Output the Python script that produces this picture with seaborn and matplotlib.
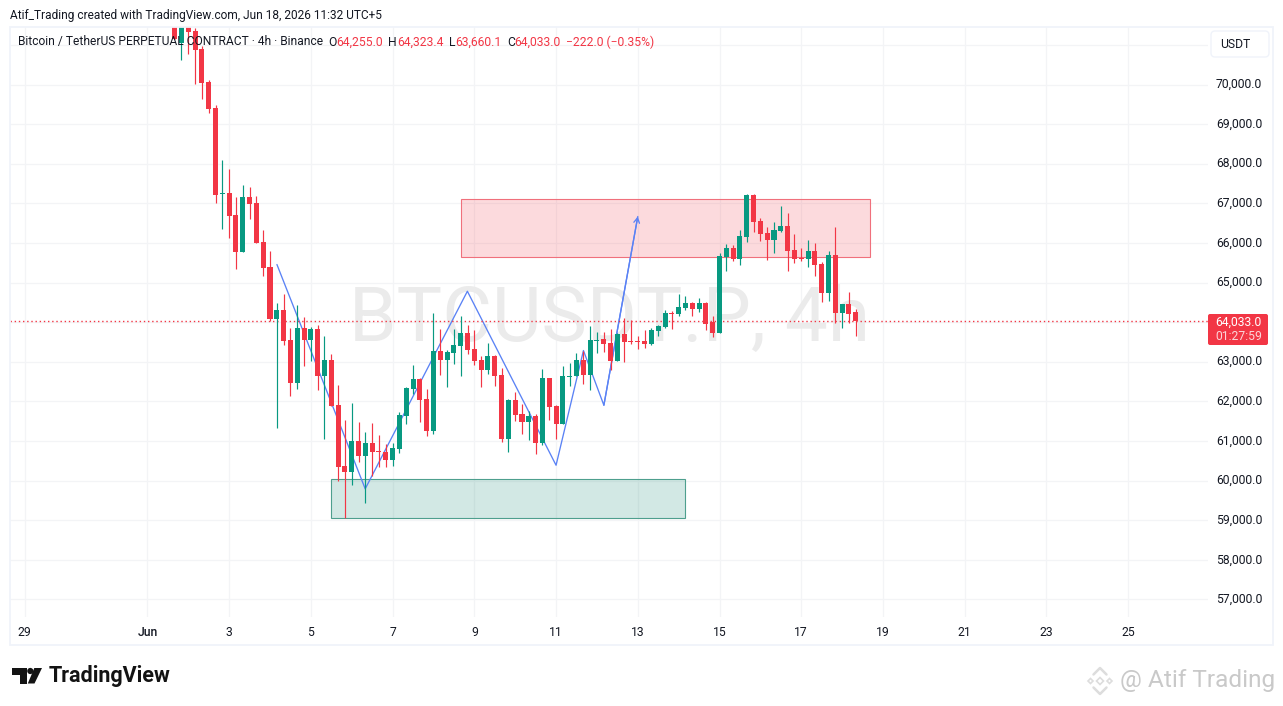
import numpy as np
import pandas as pd
import matplotlib
matplotlib.use("Agg")
import matplotlib.pyplot as plt
from matplotlib.patches import FancyBboxPatch, Polygon, Circle, Rectangle
from matplotlib.transforms import ScaledTranslation
import seaborn as sns

# 4h candles, Jun 1 16:00 -> Jun 18 08:00
candle_times = pd.date_range("2026-06-01 16:00", periods=101, freq="4h")
opens = [71700, 71060, 71560, 71363, 70909, 70075, 69419, 67247, 67273, 66717,
         65783, 67172, 67020, 66036, 65404, 64091, 64318, 63561, 62475, 63864,
         63561, 63839, 62652, 63056, 61920, 60379, 60228, 61011, 60632, 60960,
         60758, 60733, 60531, 60809, 61642, 62324, 62576, 62071, 61263, 63283,
         63056, 63233, 63410, 63738, 63334, 63056, 62803, 63157, 62677, 61061,
         62046, 61692, 61491, 61642, 60960, 62601, 61895, 61440, 62627, 62652,
         63056, 62677, 63536, 63586, 63485, 63031, 63712, 63536, 63536, 63536,
         63460, 63788, 63889, 64243, 64217, 64369, 64495, 64344, 64495, 64015,
         63738, 65657, 65884, 65606, 66162, 67222, 66566, 66263, 66086, 66313,
         66439, 65833, 65631, 65606, 65808, 65480, 64748, 65707, 64243, 64470,
         64255]
highs = [71900, 71800, 71700, 71439, 70984, 70126, 69495, 68106, 67879, 67172,
         67475, 67424, 67197, 66338, 65808, 64495, 64722, 63864, 64445, 64142,
         63889, 63940, 63662, 63207, 62425, 61541, 61970, 61491, 61238, 61465,
         61162, 60935, 60960, 61743, 62374, 62930, 62602, 62324, 64243, 63839,
         63308, 63839, 64167, 63916, 63814, 63157, 63485, 63182, 62854, 62071,
         62248, 61945, 61768, 61692, 62829, 62601, 61920, 62904, 62980, 63233,
         63283, 63914, 63763, 63763, 63839, 63738, 64116, 64066, 63662, 63814,
         63864, 63940, 64318, 64293, 64722, 64672, 64520, 64621, 64520, 64167,
         65758, 65985, 65960, 66338, 67248, 67248, 66641, 66414, 66541, 66944,
         66768, 66237, 65884, 66086, 66010, 65530, 65808, 66414, 64470, 64773,
         64323]
lows = [71161, 70631, 70782, 70025, 69646, 69268, 67020, 66364, 66136, 65354,
        65783, 66616, 66010, 65177, 64041, 61339, 63435, 62147, 62324, 62904,
        63031, 62298, 61061, 61895, 60001, 59066, 59900, 60480, 59445, 60127,
        60354, 60354, 60379, 60708, 61440, 62197, 61491, 61137, 61188, 62677,
        62374, 62955, 62652, 63207, 62930, 62374, 62703, 62399, 60985, 60733,
        61515, 61188, 61036, 60683, 60910, 61541, 61061, 61440, 62399, 62652,
        62450, 62298, 63233, 63258, 62803, 63031, 63006, 63460, 63334, 63359,
        63435, 63662, 63864, 63839, 64167, 64318, 64167, 64268, 63814, 63637,
        63738, 65303, 65556, 65455, 66036, 66288, 66061, 65581, 65758, 66288,
        65303, 65505, 65556, 65404, 65177, 64520, 64545, 63990, 63864, 63990,
        63660]
closes = [71161, 71600, 71338, 70883, 70050, 69394, 67222, 67273, 66692, 65783,
          67172, 66995, 66010, 65379, 64091, 64318, 63536, 62475, 63864, 63561,
          63839, 62652, 63056, 61895, 60354, 60228, 61011, 60632, 60960, 60733,
          60733, 60531, 60834, 61667, 62349, 62576, 62046, 61263, 63283, 63056,
          63258, 63435, 63738, 63308, 63031, 62803, 63157, 62652, 61061, 62046,
          61667, 61491, 61642, 60960, 62601, 61869, 61440, 62652, 62652, 63056,
          62677, 63561, 63561, 63460, 63031, 63712, 63510, 63510, 63510, 63460,
          63814, 63914, 64243, 64217, 64394, 64495, 64344, 64495, 63965, 63738,
          65682, 65884, 65606, 66187, 67222, 66541, 66238, 66086, 66338, 66439,
          65808, 65606, 65606, 65808, 65455, 64748, 65707, 64243, 64470, 64217,
          64033]

# blue hand drawn path, days after Jun 1 / price
path_days = [3.17, 5.33, 7.83, 10.0, 10.67, 11.17, 12.0]
path_prices = [65455, 59791, 64780, 60387, 63283, 61902, 66667]

# supply and demand boxes
red_zone_days = [7.67, 17.67]
red_zone_prices = [65657, 67109]
green_zone_days = [4.49, 13.155]
green_zone_prices = [59054, 60051]

last_price = 64033.0
price_ticks = [70000, 69000, 68000, 67000, 66000, 65000, 64000, 63000,
               62000, 61000, 60000, 59000, 58000, 57000]
grid_prices = [71000] + price_ticks
day_ticks = [-3, 0, 2, 4, 6, 8, 10, 12, 14, 16, 18, 20, 22, 24]
day_labels = ["29", "Jun", "3", "5", "7", "9", "11", "13", "15", "17", "19", "21", "23", "25"]

UP = "#089981"
DOWN = "#F23645"
GRID = "#F3F4F6"
FRAME = "#F0F3FA"
TEXT = "#131722"
W, H = 1283, 706


def draw_bodies(ax, df, color):
    # seaborn bars sitting on the lower edge of each candle body
    sns.barplot(data=df, x="day", y="height", native_scale=True, color=color,
                saturation=1, width=0.74, errorbar=None, ax=ax,
                bottom=df["base"].to_numpy(), linewidth=0, zorder=6)


def main():
    sns.set_theme(style="white")
    plt.rcParams["font.family"] = ["Roboto", "DejaVu Sans"]

    df = pd.DataFrame({"open": opens, "high": highs, "low": lows, "close": closes})
    df["day"] = (candle_times - pd.Timestamp("2026-06-01")) / pd.Timedelta(days=1)
    df["base"] = df[["open", "close"]].min(axis=1)
    df["height"] = (df["open"] - df["close"]).abs().clip(lower=25)
    df["up"] = df["close"] >= df["open"]

    fig = plt.figure(figsize=(W / 100, H / 100), dpi=100, facecolor="white")
    ax = fig.add_axes([10 / W, 1 - 617 / H, 1198 / W, 590 / H])

    # zones and path under the candles
    ax.add_patch(Rectangle((red_zone_days[0], red_zone_prices[0]),
                           red_zone_days[1] - red_zone_days[0],
                           red_zone_prices[1] - red_zone_prices[0],
                           facecolor=(0.949, 0.212, 0.271, 0.18),
                           edgecolor="#F0707C", linewidth=0.8, zorder=2))
    ax.add_patch(Rectangle((green_zone_days[0], green_zone_prices[0]),
                           green_zone_days[1] - green_zone_days[0],
                           green_zone_prices[1] - green_zone_prices[0],
                           facecolor=(0.118, 0.55, 0.47, 0.2),
                           edgecolor="#4E9F8E", linewidth=0.8, zorder=2))

    path = pd.DataFrame({"day": path_days, "price": path_prices})
    sns.lineplot(data=path, x="day", y="price", sort=False, estimator=None,
                 color="#5A82F5", linewidth=0.95, ax=ax, zorder=3)
    ax.annotate("", xy=(path_days[-1], path_prices[-1]),
                xytext=(path_days[-2], path_prices[-2]),
                arrowprops=dict(arrowstyle="->,head_length=0.3,head_width=0.17",
                                color="#5A82F5", lw=0.95, shrinkA=0, shrinkB=0),
                zorder=3)

    ax.axhline(last_price, color=DOWN, linewidth=1.0, linestyle=(0, (1, 2.0)), zorder=4)

    # wicks then bodies
    wick_colors = [UP if u else DOWN for u in df["up"]]
    ax.vlines(df["day"], df["low"], df["high"], colors=wick_colors, linewidth=0.85, zorder=5)
    draw_bodies(ax, df[df["up"]], UP)
    draw_bodies(ax, df[~df["up"]], DOWN)

    ax.set_xlim(-3.362, 25.953)
    ax.set_ylim(56555, 71452)
    ax.set_xticks(day_ticks)
    ax.set_xticklabels(day_labels)
    ax.set_yticks(grid_prices)
    ax.set_yticklabels([""] + [f"{p:,.1f}" for p in price_ticks])
    ax.yaxis.tick_right()
    ax.tick_params(axis="y", length=0, pad=5.8, labelsize=8.7, labelcolor=TEXT)
    ax.tick_params(axis="x", length=0, pad=6.5, labelsize=8.7, labelcolor=TEXT)
    ax.set_xlabel("")
    ax.set_ylabel("")
    ax.set_axisbelow(True)
    ax.grid(True, color=GRID, linewidth=0.9)
    for side in ax.spines.values():
        side.set_visible(False)
    for label in ax.get_xticklabels():
        if label.get_text() == "Jun":
            label.set_fontweight("medium")
    # price labels sit a little above their grid lines
    nudge = ScaledTranslation(0, 1.5 / 100, fig.dpi_scale_trans)
    for label in ax.get_yticklabels():
        label.set_transform(label.get_transform() + nudge)

    # symbol watermark behind everything
    ax.text(11.3, 64050, "BTCUSDT.P, 4h", fontsize=55, color="#EBEBEB", ha="center",
            va="center", zorder=1)

    # overlay in pixel coordinates for the chrome around the chart
    ov = fig.add_axes([0, 0, 1, 1], facecolor="none")
    ov.set_xlim(0, W)
    ov.set_ylim(H, 0)
    ov.axis("off")

    ov.add_patch(Rectangle((10, 27), 1263, 618, fill=False, edgecolor=FRAME, linewidth=1.3))
    ov.text(10, 15, "Atif_Trading created with TradingView.com, Jun 18, 2026 11:32 UTC+5",
            fontsize=8.57, color=TEXT, va="center")

    # legend row, pieces sit at their own x
    ov.text(18, 42, "Bitcoin / TetherUS PERPETUAL CONTRACT · 4h · Binance", fontsize=8.62,
            color=TEXT, va="center")
    row = [(328, "O", TEXT), (336.5, "64,255.0", DOWN),
           (388, "H", TEXT), (396.8, "64,323.4", DOWN),
           (449, "L", TEXT), (455, "63,660.1", DOWN),
           (507, "C", TEXT), (514, "64,033.0", DOWN),
           (566, "−222.0 (−0.35%)", DOWN)]
    for x, s, c in row:
        ov.text(x, 42, s, fontsize=8.7, color=c, va="center")

    # currency button
    ov.add_patch(FancyBboxPatch((1214, 34), 52, 20, boxstyle="round,pad=3,rounding_size=4",
                                facecolor="white", edgecolor=FRAME, linewidth=1))
    ov.text(1220, 44.5, "USDT", fontsize=8.7, color=TEXT, va="center")

    # last price tag
    ov.add_patch(FancyBboxPatch((1209, 315), 58, 29, boxstyle="round,pad=1,rounding_size=2",
                                facecolor=DOWN, edgecolor="none"))
    ov.text(1238.5, 322.5, "64,033.0", fontsize=8.7, color="white", ha="center", va="center")
    ov.text(1238.5, 336, "01:27:59", fontsize=8.7, color="#FBD5D9", ha="center", va="center")

    # TradingView logo
    ov.add_patch(Polygon([(12, 668), (27.3, 668), (27.3, 683.5), (19.5, 683.5), (19.5, 675), (12, 675)],
                         facecolor="#131313", edgecolor="none"))
    ov.add_patch(Circle((30.3, 671), 3.1, facecolor="#131313", edgecolor="none"))
    ov.add_patch(Polygon([(34.3, 668), (42, 668), (34.5, 683.5), (27.8, 683.5)],
                         facecolor="#131313", edgecolor="none"))
    ov.text(48.5, 676, "TradingView", fontsize=15.5, color="#131313", va="center",
            fontweight="bold")

    # Binance square stamp, bottom right
    stamp = "#DDDDDD"
    cx, cy = 1100, 681
    for dx, dy, r in [(0, 0, 3.5), (-9.5, 0, 2.5), (9.5, 0, 2.5)]:
        ov.add_patch(Polygon([(cx + dx - r, cy + dy), (cx + dx, cy + dy - r),
                              (cx + dx + r, cy + dy), (cx + dx, cy + dy + r)],
                             fill=False, edgecolor=stamp, linewidth=1.2))
    ov.plot([cx - 6.5, cx, cx + 6.5], [cy - 6.5, cy - 13, cy - 6.5], color=stamp, linewidth=1.8)
    ov.plot([cx - 6.5, cx, cx + 6.5], [cy + 6.5, cy + 13, cy + 6.5], color=stamp, linewidth=1.8)
    ov.text(1119.5, 681, "@ Atif Trading", fontsize=17.6, color="#C9C9C9", va="center")

    fig.savefig("out.png", dpi=100)
    plt.close(fig)


if __name__ == "__main__":
    main()
